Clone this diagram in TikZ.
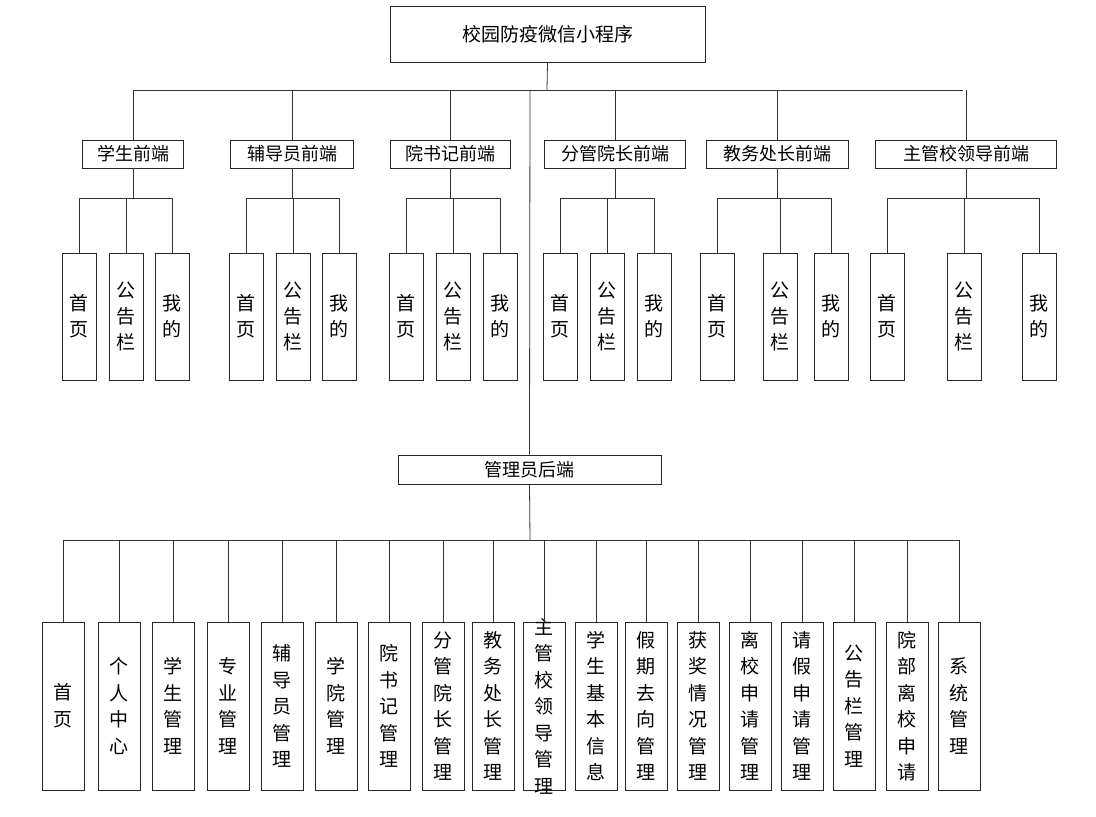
\documentclass[tikz,border=0pt]{standalone}
\usepackage{fontspec}
\setmainfont{Noto Sans CJK SC}
\begin{document}
\begin{tikzpicture}[x=1pt,y=-1pt,
  bx/.style={draw=black!85,line width=0.8pt,fill=white,inner sep=0pt,font=\fontsize{19}{26}\selectfont,align=center},
  ln/.style={draw=black!80,line width=0.8pt}]
\useasboundingbox (0,0) rectangle (1096,817);
\fill[white] (0,0) rectangle (1096,817);
% root
\node[bx,minimum width=315,minimum height=56] (root) at (547.5,34) {校园防疫微信小程序};
\coordinate (tj) at (547,90);
\draw[ln] (root.south) -- (tj);
\draw[ln] (133,90) -- (963,90);
% admin
\node[bx,minimum width=263,minimum height=29,font=\fontsize{18}{22}\selectfont] (adm) at (529.5,469.5) {管理员后端};
\coordinate (aj) at (530,90);
\draw[ln] (aj) -- (adm.north);
% level 1
\foreach \n/\cx/\w/\t/\a/\b/\c in {
  s/133/101/学生前端/79/126/172,
  f/292/123/辅导员前端/246/293/339,
  y/450/120/院书记前端/406/453/500,
  d/615/141/分管院长前端/560/607/654,
  j/777/142/教务处长前端/717/780/831,
  z/966/181/主管校领导前端/887/964/1039}{
  \node[bx,minimum width=\w,minimum height=28,font=\fontsize{18}{22}\selectfont] (\n) at (\cx,154) {\t};
  \coordinate (\n top) at (\cx,90);
  \draw[ln] (\n top) -- (\n.north);
  \coordinate (\n j) at (\cx,198);
  \draw[ln] (\n.south) -- (\n j);
  \draw[ln] (\a,198) -- (\c,198);
  \node[bx,minimum width=34,minimum height=127] (\n1) at (\a,316.5) {首\\页};
  \node[bx,minimum width=34,minimum height=127] (\n2) at (\b,316.5) {公\\告\\栏};
  \node[bx,minimum width=34,minimum height=127] (\n3) at (\c,316.5) {我\\的};
  \foreach \k/\x in {1/\a,2/\b,3/\c}{
    \coordinate (\n t\k) at (\x,198);
    \draw[ln] (\n t\k) -- (\n\k.north);}
}
% bottom
\coordinate (bj) at (530,540);
\draw[ln] (adm.south) -- (bj);
\draw[ln] (63,540) -- (959,540);
\foreach \i/\x/\t in {
 1/63/{首\\页},2/119/{个\\人\\中\\心},3/173/{学\\生\\管\\理},4/228/{专\\业\\管\\理},
 5/282/{辅\\导\\员\\管\\理},6/336/{学\\院\\管\\理},7/389/{院\\书\\记\\管\\理},
 8/443/{分\\管\\院\\长\\管\\理},9/493/{教\\务\\处\\长\\管\\理},10/544/{主\\管\\校\\领\\导\\管\\理},
 11/596/{学\\生\\基\\本\\信\\息},12/646/{假\\期\\去\\向\\管\\理},13/698/{获\\奖\\情\\况\\管\\理},
 14/750/{离\\校\\申\\请\\管\\理},15/802/{请\\假\\申\\请\\管\\理},16/854/{公\\告\\栏\\管\\理},
 17/907/{院\\部\\离\\校\\申\\请},18/959/{系\\统\\管\\理}}{
  \node[bx,minimum width=42,minimum height=168] (b\i) at (\x,706) {};
  \node[inner sep=0pt,align=center,font=\fontsize{19}{26.5}\selectfont] (bt\i) at (b\i.center) {\t};
  \coordinate (bc\i) at (\x,540);
  \draw[ln] (bc\i) -- (b\i.north);
}
\end{tikzpicture}
\end{document}
